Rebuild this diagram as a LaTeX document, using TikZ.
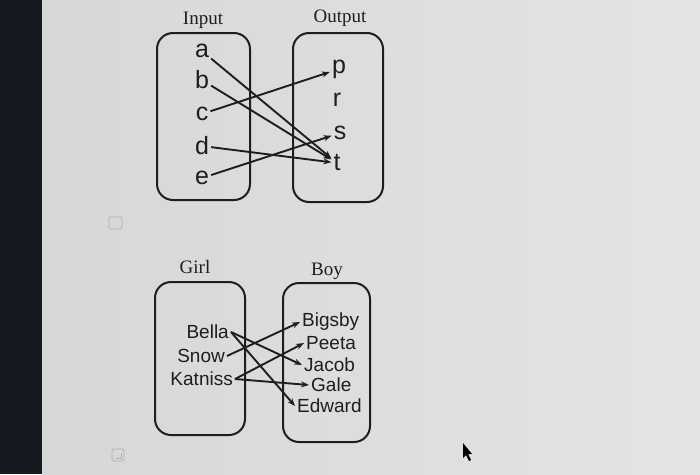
\documentclass[tikz,border=0pt]{standalone}
\usepackage{fontspec}
\setmainfont{Liberation Serif}
\setsansfont{Liberation Sans}
\usetikzlibrary{arrows.meta,positioning}
\definecolor{bezel}{RGB}{22,25,32}
\definecolor{screenL}{RGB}{214,215,217}
\definecolor{screenR}{RGB}{228,228,229}
\definecolor{boxicon}{RGB}{175,176,178}
\definecolor{ink}{RGB}{30,30,32}

\begin{document}
\begin{tikzpicture}[x=1pt,y=-1pt,
setbox/.style={draw=ink,line width=2pt,rounded corners=16pt},
head/.style={font=\fontsize{19}{19}\selectfont,text=ink,inner sep=0pt},
elem/.style={font=\sffamily\fontsize{25}{25}\selectfont,text=ink,inner sep=2pt},
pname/.style={font=\sffamily\fontsize{19}{19}\selectfont,text=ink,inner sep=2pt},
map/.style={draw=ink,-{Stealth[length=8pt,width=6pt]},line width=1.9pt}]
% screen
\useasboundingbox (0,0) rectangle (700,474);
\shade[left color=screenL,right color=screenR] (42,0) rectangle (700,474);
\fill[bezel] (0,0) rectangle (42,474);
\draw[boxicon,line width=0.8pt,rounded corners=1.5pt] (109,217) rectangle (122,229);
\draw[boxicon,line width=0.8pt,rounded corners=1.5pt] (112,449) rectangle (124,461);
\draw[boxicon,line width=0.6pt] (116,458) -- (121,458) -- (121,453);
\fill[black] (463,443) -- (463,458) -- (466,455) -- (469,461) -- (471,460)
  -- (468,454) -- (472,454) -- cycle;

% input / output
\node[head] (input) at (203,20) {Input};
\node[head] (output) at (340,18) {Output};
\draw[setbox] (157,33) rectangle (250,200);
\draw[setbox] (293,33) rectangle (383,202);
\node[elem] (a) at (202,51) {a};
\node[elem] (b) at (202,80) {b};
\node[elem] (c) at (202,114) {c};
\node[elem] (d) at (202,146) {d};
\node[elem] (e) at (202,178) {e};
\node[elem] (p) at (339,69) {p};
\node[elem] (r) at (337,100) {r};
\node[elem] (s) at (340,133) {s};
\node[elem] (t) at (337,163) {t};
\draw[map] (a) -- (t);
\draw[map] (b) -- (t);
\draw[map] (c) -- (p);
\draw[map] (d) -- (t);
\draw[map] (e) -- (s);

% girl / boy
\node[head] (girl) at (195,267) {Girl};
\node[head] (boy) at (327,271) {Boy};
\draw[setbox] (155,282) rectangle (245,435);
\draw[setbox] (283,283) rectangle (370,442);
\node[pname,anchor=east] (bella) at (231,332) {Bella};
\node[pname,anchor=east] (snow) at (227,356) {Snow};
\node[pname,anchor=east] (katniss) at (235,379) {Katniss};
\node[pname,anchor=west] (bigsby) at (300,322) {Bigsby};
\node[pname,anchor=west] (peeta) at (304,343) {Peeta};
\node[pname,anchor=west] (jacob) at (302,365) {Jacob};
\node[pname,anchor=west] (gale) at (309,385) {Gale};
\node[pname,anchor=west] (edward) at (295,406) {Edward};
\draw[map] (bella.east) -- (jacob.west);
\draw[map] (bella.east) -- (edward.west);
\draw[map] (snow.east) -- (bigsby.west);
\draw[map] (katniss.east) -- (peeta.west);
\draw[map] (katniss.east) -- (gale.west);
\end{tikzpicture}
\end{document}
